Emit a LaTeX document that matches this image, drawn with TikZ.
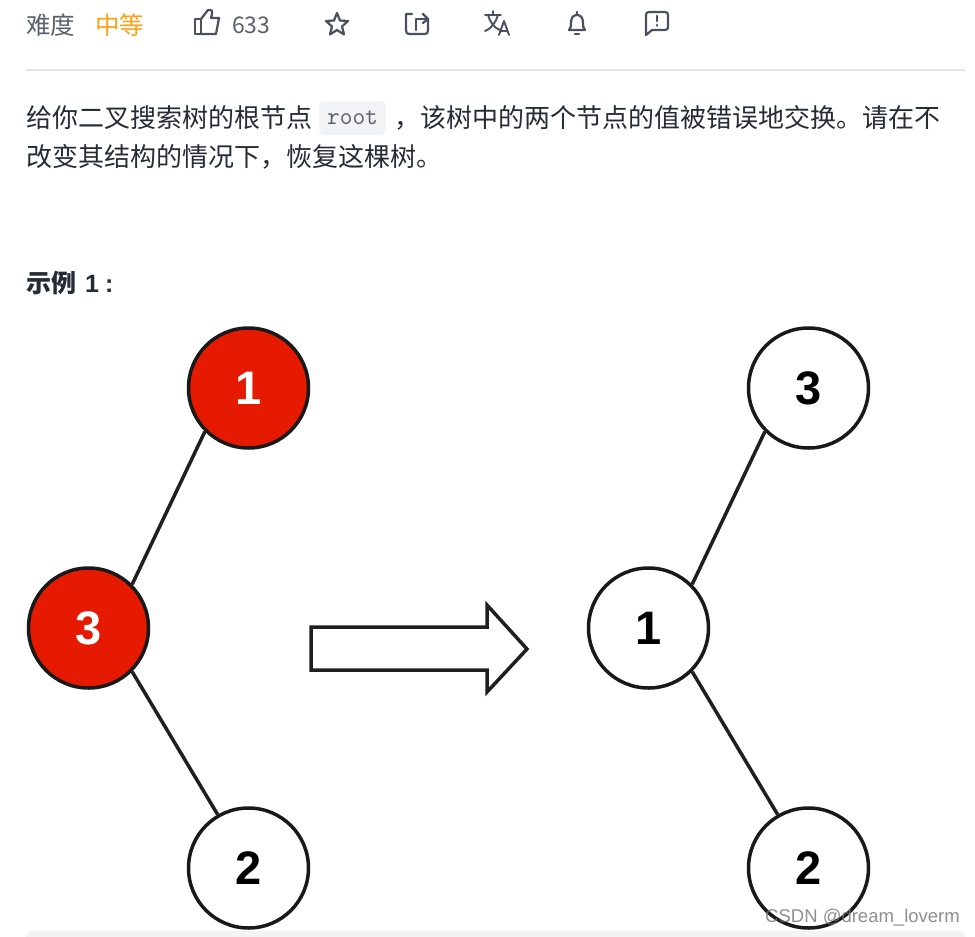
\documentclass[tikz,border=0pt]{standalone}
\usepackage{fontspec}
\setmainfont{Liberation Sans}
\newfontfamily\cjk{Noto Sans CJK SC}
\usetikzlibrary{calc}
\definecolor{bodytext}{HTML}{262C36}
\definecolor{headgrey}{HTML}{5A606B}
\definecolor{iconblue}{HTML}{4A505C}
\definecolor{midorange}{HTML}{FFA116}
\definecolor{rulegrey}{HTML}{E4E5E9}
\definecolor{codebg}{HTML}{F2F3F5}
\definecolor{nodered}{HTML}{E51A00}
\tikzset{
  headtext/.style={anchor=west,inner sep=0,text=headgrey,font=\fontsize{24.5}{25}\cjk},
  bodyline/.style={anchor=west,inner sep=0,text=bodytext,font=\fontsize{26}{26}\cjk},
  treenode/.style={circle,draw=black!90,line width=3.5pt,fill=white,minimum size=120pt,inner sep=0,
    font=\fontsize{47}{47}\bfseries},
  rednode/.style={treenode,fill=nodered,text=white},
  edge/.style={line width=3.5pt,draw=black!88},
  icon/.style={line width=2.2pt,draw=iconblue,line join=round,line cap=round}
}
\begin{document}
\begin{tikzpicture}[x=1pt,y=-1pt]
    \useasboundingbox (0,0) rectangle (975,937);
    \fill[white] (0,0) rectangle (975,937);
    % header
    \node[headtext] (level) at (26,25) {难度};
    \node[headtext,text=midorange] (medium) at (95,25) {中等};
    \node[headtext,font=\fontsize{23}{23}\cjk] (likes) at (232,25) {633};
    % thumb
    \draw[icon] (195,19) rectangle (201,34);
    \draw[icon] (201,19) -- (208,10) .. controls (212,9) and (213,12) .. (212,14) -- (211,18)
      -- (219,18) -- (216,34) -- (201,34);
    % star
    \draw[icon] (337,13) -- (340,20.5) -- (348,21) -- (342,26.5) -- (344,34.5) -- (337,30)
      -- (330,34.5) -- (332,26.5) -- (326,21) -- (334,20.5) -- cycle;
    % share
    \draw[icon] (412,14) -- (406,14) -- (406,30) .. controls (406,33) and (407,34) .. (409,34) -- (425,34)
      .. controls (427,34) and (428,33) .. (428,30) -- (428,19);
    \draw[icon] (416,30) -- (416,19) -- (427,19);
    \draw[icon] (423,14) -- (428,19) -- (423,23);
    % translate
    \draw[icon,line width=1.9pt] (485,15) -- (501,15) (493,11) -- (493,15) (488,15) .. controls (490,22) and (494,28) .. (500,30)
      (498,15) .. controls (496,22) and (492,28) .. (485,31);
    \draw[icon,line width=1.9pt] (499,35) -- (504,21) -- (509,35) (501,31) -- (507,31);
    % bell
    \draw[icon] (569,30) .. controls (571,28) and (571,26) .. (571,23) .. controls (571,18) and (573,15) .. (577,15)
      .. controls (581,15) and (583,18) .. (583,23) .. controls (583,26) and (583,28) .. (585,30) -- cycle;
    \draw[icon] (577,12) -- (577,14) (575,34) -- (579,34);
    % feedback
    \draw[icon] (646,35) -- (646,15) .. controls (646,13) and (647,12) .. (649,12) -- (665,12)
      .. controls (667,12) and (668,13) .. (668,15) -- (668,27) .. controls (668,29) and (667,30) .. (665,30)
      -- (652,30) -- cycle;
    \draw[icon,line width=2.8pt] (657,16) -- (657,21) (657,25) -- (657,25.5);
    %
    \draw[rulegrey,line width=2pt] (26,70) -- (965,70);
    % text
    \node[bodyline] (lineone) at (26,118) {给你二叉搜索树的根节点};
    \node[fill=codebg,rounded corners=5pt,minimum width=67pt,minimum height=34pt,inner sep=0,
      text=headgrey,font=\fontsize{24.7}{25}\ttfamily] (rootcode) at (352.5,118) {root};
    \node[bodyline] (lineonerest) at (394,118) {，该树中的两个节点的值被错误地交换。请在不};
    \node[bodyline] (linetwo) at (26,157) {改变其结构的情况下，恢复这棵树。};
    \node[bodyline,font=\fontsize{25}{25}\bfseries] (example) at (26,283) {{\cjk\bfseries 示例}\hspace{9pt}1\hspace{6pt}:};
    % left tree
    \node[rednode] (lroot) at (248.5,388) {1};
    \node[rednode] (lleft) at (88.5,628) {3};
    \node[treenode] (lright) at (248.5,868) {2};
    \draw[edge] (lroot.225) -- (lleft.45);
    \draw[edge] (lleft.-45) -- (lright.120);
    %
    \draw[line width=3.5pt,draw=black!88,fill=white,line join=miter]
      (311,627) -- (487,627) -- (487,605) -- (527,649) -- (487,692) -- (487,670) -- (311,670) -- cycle;
    % right tree
    \node[treenode] (rroot) at (808.5,388) {3};
    \node[treenode] (rleft) at (648.5,628) {1};
    \node[treenode] (rright) at (808.5,868) {2};
    \draw[edge] (rroot.225) -- (rleft.45);
    \draw[edge] (rleft.-45) -- (rright.120);
    %
    \fill[codebg,rounded corners=5pt] (26,931) rectangle (965,945);
    \node[anchor=east,inner sep=0,text=black!55,opacity=0.8,font=\fontsize{18.5}{19}\selectfont] (mark) at (960,918) {CSDN @dream\_loverm};
\end{tikzpicture}
\end{document}
